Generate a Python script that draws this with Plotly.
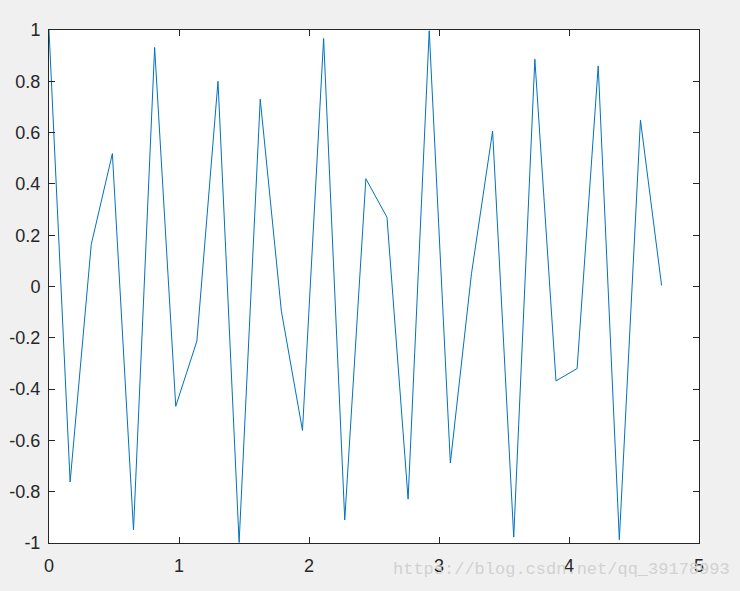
import plotly.graph_objects as go

x_vals = [0.0, 0.1625, 0.3250, 0.4875, 0.6500, 0.8125, 0.9749, 1.1374, 1.2999, 1.4624,
          1.6249, 1.7874, 1.9499, 2.1124, 2.2749, 2.4374, 2.5998, 2.7623, 2.9248, 3.0873,
          3.2498, 3.4123, 3.5748, 3.7373, 3.8998, 4.0623, 4.2247, 4.3872, 4.5497, 4.7122]
y_vals = [1.0, -0.762, 0.164, 0.518, -0.949, 0.932, -0.467, -0.213, 0.800, -0.998,
          0.730, -0.096, -0.561, 0.967, -0.910, 0.420, 0.270, -0.829, 0.997, -0.688,
          0.050, 0.606, -0.977, 0.886, -0.368, -0.320, 0.860, -0.987, 0.649, 0.004]

x_ticks = [0, 1, 2, 3, 4, 5]
x_tick_text = ["0", "1", "2", "3", "4", "5"]
y_ticks = [-1, -0.8, -0.6, -0.4, -0.2, 0, 0.2, 0.4, 0.6, 0.8, 1]
y_tick_text = ["-1", "-0.8", "-0.6", "-0.4", "-0.2", "0", "0.2", "0.4", "0.6", "0.8", "1"]
watermark = "https://blog.csdn.net/qq_39178993"

axis_color = "#262626"
fig = go.Figure()
fig.add_trace(go.Scatter(x=x_vals, y=y_vals, mode="lines",
                         line=dict(color="#0072BD", width=1)))

common = dict(showgrid=False, zeroline=False, showline=True, linecolor=axis_color,
              linewidth=1, mirror="ticks", ticks="inside", ticklen=6,
              tickcolor=axis_color, tickwidth=1, automargin=False,
              tickfont=dict(family="Liberation Sans, Arial", size=18, color=axis_color))

fig.update_layout(
    width=740, height=591,
    margin=dict(l=49, r=41, t=30, b=48),
    paper_bgcolor="#f0f0f0", plot_bgcolor="#ffffff",
    showlegend=False,
    xaxis=dict(range=[0, 5], tickvals=x_ticks, ticktext=x_tick_text,
               ticklabelstandoff=6, **common),
    yaxis=dict(range=[-1, 1], tickvals=y_ticks, ticktext=y_tick_text,
               ticklabelstandoff=4, **common),
    annotations=[dict(text=watermark, xref="paper", yref="paper", x=1.05, y=-0.03,
                      xanchor="right", yanchor="top", showarrow=False,
                      font=dict(family="Liberation Mono, DejaVu Sans Mono", size=17,
                                color="rgba(205,205,205,0.9)"))],
)
fig.write_html("out.html", config={"displayModeBar": False},
               post_script="document.body.style.margin='0';document.body.style.overflow='hidden';")
